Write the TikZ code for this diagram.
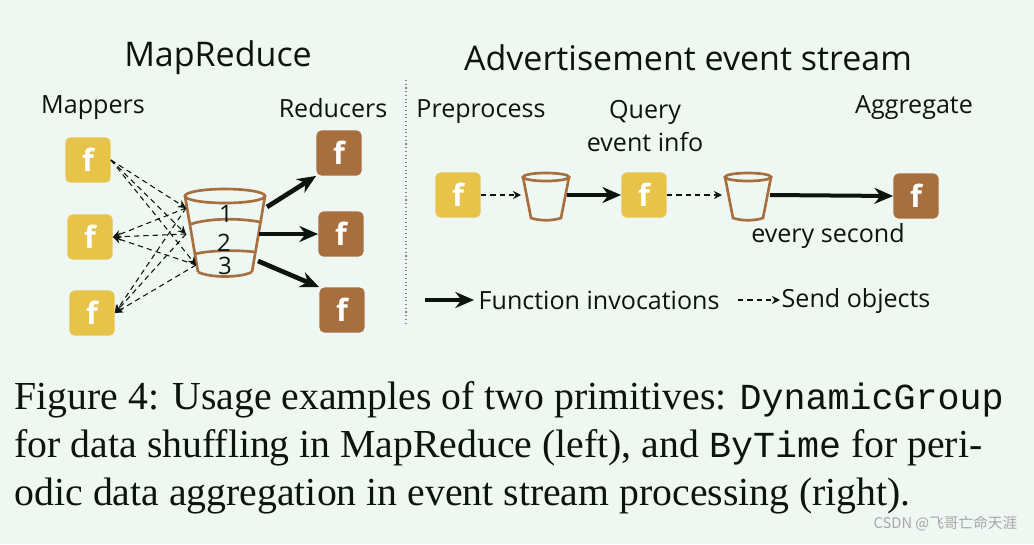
\documentclass[tikz,border=0pt]{standalone}
\usepackage{fontspec}
\setmainfont{Liberation Serif}
\newfontfamily\dia{Open Sans}
\newfontfamily\mono{Liberation Mono}
\newfontfamily\cjk{Noto Sans CJK SC}
\usetikzlibrary{arrows.meta}
\definecolor{bg}{HTML}{EEF7F1}
\definecolor{fy}{HTML}{E8C34A}
\definecolor{fb}{HTML}{A86F3E}
\definecolor{ink}{HTML}{0D140F}
\begin{document}
\begin{tikzpicture}[x=0.75pt,y=-0.75pt,
  fbox/.style={rounded corners=4pt,minimum size=34pt,inner sep=0pt,text=white,font=\dia\fontsize{23}{24}\selectfont\bfseries},
  mp/.style={fbox,fill=fy}, rd/.style={fbox,fill=fb},
  lbl/.style={font=\dia\fontsize{18.8}{25}\selectfont,text=ink,align=center},
  ttl/.style={font=\dia\fontsize{25.5}{28}\selectfont,text=ink},
  bk/.style={draw=fb,line width=2pt},
  dsh/.style={draw=ink,dash pattern=on 4pt off 3pt,thick,-{Stealth[length=6pt,width=6pt]}},
  sol/.style={draw=ink,line width=3.5pt,-{Stealth[length=14pt,width=12pt]}},
  captxt/.style={font=\fontsize{29.8}{36}\selectfont,anchor=west,text=ink}]
\fill[bg] (0,0) rectangle (1034,544);
\node[ttl] (t1) at (218,58) {MapReduce};
\node[ttl] (t2) at (688,58) {Advertisement event stream};
\draw[gray,dotted,thick] (406,80) -- (406,325);
\node[lbl] (l1) at (93,108) {Mappers};
\node[lbl] (l2) at (333,108) {Reducers};
\node[lbl] (l3) at (481,112) {Preprocess};
\node[lbl] (l4) at (645,126) {Query\\event info};
\node[lbl] (l5) at (914,108) {Aggregate};
% mappers, reducers
\node[mp] (m1) at (88,160) {f};
\node[mp] (m2) at (90,237) {f};
\node[mp] (m3) at (92,313) {f};
\node[rd] (r1) at (339,153) {f};
\node[rd] (r2) at (341,234) {f};
\node[rd] (r3) at (342,310) {f};
% big bucket
\draw[bk] (225,196) ellipse (40 and 7);
\draw[bk] (185,196) -- (198,272) (265,196) -- (252,272);
\draw[bk] (198,272) .. controls (210,278) and (240,278) .. (252,272);
\draw[bk] (191,224) .. controls (210,218) and (240,218) .. (260,222);
\draw[bk] (195,254) .. controls (210,250) and (240,250) .. (255,252);
\node[font=\dia\fontsize{18}{20}\selectfont,text=ink] (n1) at (226,214) {1};
\node[font=\dia\fontsize{18}{20}\selectfont,text=ink] (n2) at (224,243) {2};
\node[font=\dia\fontsize{18}{20}\selectfont,text=ink] (n3) at (225,266) {3};
\coordinate (p1) at (186,208);
\coordinate (p2) at (186,234);
\coordinate (p3) at (196,265);
\foreach \p in {p1,p2,p3}{
  \draw[dsh] (m1.east) -- (\p);
  \draw[dsh] (\p) -- (m2.east);
  \draw[dsh] (\p) -- (m3.east);}
\coordinate (b1) at (267,207);
\coordinate (b2) at (259,234);
\coordinate (b3) at (258,261);
\draw[sol] (b1) -- (r1.south west);
\draw[sol] (b2) -- (r2.west);
\draw[sol] (b3) -- (r3.north west);
% stream
\node[mp] (s1) at (458,195) {f};
\node[mp] (s2) at (644,195) {f};
\node[rd] (s3) at (916,196) {f};
\draw[bk] (546,177) ellipse (23 and 4);
\draw[bk] (523,177) -- (531,218) .. controls (540,221) and (552,221) .. (561,218) -- (569,177);
\draw[bk] (748,177) ellipse (23 and 4);
\draw[bk] (725,177) -- (733,218) .. controls (742,221) and (754,221) .. (763,218) -- (771,177);
\coordinate (k1i) at (521,195);
\coordinate (k1o) at (567,195);
\coordinate (k2i) at (722,195);
\coordinate (k2o) at (770,195);
\draw[dsh] (s1.east) -- (k1i);
\draw[sol,line width=3pt] (k1o) -- (s2.west);
\draw[dsh] (s2.east) -- (k2i);
\draw[sol,line width=3pt] (k2o) -- (s3.west);
\node[lbl] (ev) at (828,236) {every second};
% legend
\coordinate (g1) at (425,300);
\coordinate (g2) at (474,300);
\draw[sol,line width=3pt] (g1) -- (g2);
\node[lbl,anchor=west] (fi) at (474,300) {Function invocations};
\coordinate (g3) at (738,300);
\coordinate (g4) at (780,300);
\draw[dsh] (g3) -- (g4);
\node[lbl,anchor=west] (so) at (777,301) {Send objects};
% caption
\node[captxt] (c1) at (10,400) {Figure 4: Usage examples of two primitives: {\mono\fontsize{27.5}{30}\selectfont DynamicGroup}};
\node[captxt] (c2) at (10,448) {for data shuffling in MapReduce (left), and {\mono\fontsize{27.5}{30}\selectfont ByTime} for peri-};
\node[captxt] (c3) at (10,496) {odic data aggregation in event stream processing (right).};
\node[font=\cjk\fontsize{11}{12}\selectfont,text=gray!70,anchor=east] (wm) at (1022,524) {CSDN @飞哥亡命天涯};
\end{tikzpicture}
\end{document}
